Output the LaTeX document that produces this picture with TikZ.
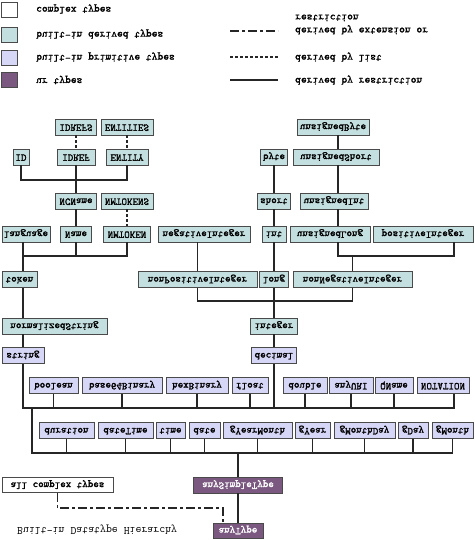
\documentclass[tikz,border=0pt]{standalone}
\usepackage{fontspec}
\newfontfamily\boxfont{Latin Modern Mono}[FakeBold=1.6]
\newfontfamily\keyfont{Latin Modern Mono}[FakeBold=1.2]
\definecolor{derivedfill}{HTML}{C4DFE0}
\definecolor{primfill}{HTML}{D6D6F6}
\definecolor{urfill}{HTML}{7A5880}
\definecolor{boxline}{HTML}{4A4A4A}
\tikzset{
  typebox/.style={draw=boxline, line width=0.9pt, inner xsep=1pt, inner ysep=0pt,
    minimum height=16pt, text height=7pt, text depth=2pt,
    font=\boxfont\fontsize{10.5}{12}\selectfont},
  derived/.style={typebox, fill=derivedfill},
  primitive/.style={typebox, fill=primfill},
  urtype/.style={typebox, fill=urfill, text=white},
  complex/.style={typebox, fill=white},
  keybox/.style={minimum width=16pt, minimum height=15pt},
  restr/.style={line width=1.3pt, draw=black!85},
  listline/.style={restr, dash pattern=on 3pt off 2pt},
  extline/.style={restr, dash pattern=on 9pt off 3pt on 3pt off 3pt},
  legendtext/.style={anchor=west, inner sep=0pt, align=left,
    font=\keyfont\fontsize{11}{13}\selectfont}
}
\begin{document}
\begin{tikzpicture}[x=1pt, y=1pt, yscale=-1, transform shape]
  \useasboundingbox (0,0) rectangle (474,540);

  % key
  \node[complex, keybox] (keyComplex) at (9,9.5) {};
  \node[derived, keybox] (keyDerived) at (9,35) {};
  \node[primitive, keybox] (keyPrimitive) at (9,57.5) {};
  \node[urtype, keybox] (keyUr) at (9,80) {};
  \node[legendtext] (txtComplex) at (36,9) {complex types};
  \node[legendtext] (txtDerived) at (36,34) {built-in derived types};
  \node[legendtext] (txtPrimitive) at (36,57) {built-in primitive types};
  \node[legendtext] (txtUr) at (36,80) {ur types};
  \draw[extline] (230,31) -- (278,31);
  \draw[listline] (230,57) -- (278,57);
  \draw[restr] (230,80) -- (278,80);
  \node[legendtext] (txtExt) at (295,24.5) {derived by extension or\\restriction};
  \node[legendtext] (txtList) at (295,57) {derived by list};
  \node[legendtext] (txtRestr) at (295,80) {derived by restriction};

  % derived types
  \node[derived, minimum width=41pt] (IDREFS) at (76,127) {IDREFS};
  \node[derived, minimum width=52pt] (ENTITIES) at (127,127) {ENTITIES};
  \node[derived, minimum width=72pt] (unsignedByte) at (333,127) {unsignedByte};
  \node[derived, minimum width=16pt] (ID) at (21,157) {ID};
  \node[derived, minimum width=38pt] (IDREF) at (76,157) {IDREF};
  \node[derived, minimum width=42pt] (ENTITY) at (127,157) {ENTITY};
  \node[derived, minimum width=27pt] (byte) at (274,157) {byte};
  \node[derived, minimum width=86pt] (unsignedShort) at (336,157) {unsignedShort};
  \node[derived, minimum width=41pt] (NCName) at (76,201) {NCName};
  \node[derived, minimum width=52pt] (NMTOKENS) at (127,201) {NMTOKENS};
  \node[derived, minimum width=33pt] (short) at (274,201) {short};
  \node[derived, minimum width=68pt] (unsignedInt) at (334,201) {unsignedInt};
  \node[derived, minimum width=48pt] (language) at (26,234) {language};
  \node[derived, minimum width=31pt] (Name) at (76,234) {Name};
  \node[derived, minimum width=47pt] (NMTOKEN) at (127,234) {NMTOKEN};
  \node[derived, minimum width=92pt] (negativeInteger) at (204,234) {negativeInteger};
  \node[derived, minimum width=24pt] (int) at (274,234) {int};
  \node[derived, minimum width=80pt] (unsignedLong) at (330,234) {unsignedLong};
  \node[derived, minimum width=100pt] (positiveInteger) at (423,234) {positiveInteger};
  \node[derived, minimum width=35pt] (token) at (19.5,279.5) {token};
  \node[derived, minimum width=119pt] (nonPositiveInteger) at (197.5,279.5) {nonPositiveInteger};
  \node[derived, minimum width=29pt] (long) at (274,279.5) {long};
  \node[derived, minimum width=119pt] (nonNegativeInteger) at (352.5,279.5) {nonNegativeInteger};
  \node[derived, minimum width=105pt] (normalizedString) at (54.5,326) {normalizedString};
  \node[derived, minimum width=47pt] (integer) at (274,326) {integer};

  % primitive types
  \node[primitive, minimum width=42pt] (string) at (23,355.5) {string};
  \node[primitive, minimum width=45pt] (decimal) at (274,355.5) {decimal};
  \node[primitive, minimum width=49pt] (boolean) at (53.5,385.5) {boolean};
  \node[primitive, minimum width=80pt] (base64Binary) at (122,385.5) {base64Binary};
  \node[primitive, minimum width=62pt] (hexBinary) at (197,385.5) {hexBinary};
  \node[primitive, minimum width=36pt] (float) at (250,385.5) {float};
  \node[primitive, minimum width=44pt] (double) at (305,385.5) {double};
  \node[primitive, minimum width=44pt] (anyURI) at (351,385.5) {anyURI};
  \node[primitive, minimum width=38pt] (QName) at (394,385.5) {QName};
  \node[primitive, minimum width=52pt] (NOTATION) at (443,385.5) {NOTATION};
  \node[primitive, minimum width=55pt] (duration) at (66.5,430.5) {duration};
  \node[primitive, minimum width=55pt] (dateTime) at (125.5,430.5) {dateTime};
  \node[primitive, minimum width=29pt] (time) at (170.5,430.5) {time};
  \node[primitive, minimum width=31pt] (date) at (204.5,430.5) {date};
  \node[primitive, minimum width=69pt] (gYearMonth) at (257.5,430.5) {gYearMonth};
  \node[primitive, minimum width=35pt] (gYear) at (312.5,430.5) {gYear};
  \node[primitive, minimum width=61pt] (gMonthDay) at (364.5,430.5) {gMonthDay};
  \node[primitive, minimum width=30pt] (gDay) at (413,430.5) {gDay};
  \node[primitive, minimum width=41pt] (gMonth) at (452.5,430.5) {gMonth};

  % ur types
  \node[complex, minimum width=111pt, minimum height=15pt] (allComplex) at (57.5,485) {all complex types};
  \node[urtype, minimum width=89pt] (anySimpleType) at (238,485) {anySimpleType};
  \node[urtype, minimum width=50pt, minimum height=15pt] (anyType) at (238,530.5) {anyType};
  \node[legendtext, font=\ttfamily\fontsize{11.5}{13}\selectfont] (title) at (17,530) {Built-in Datatype Hierarchy};

  % bars and trunks
  \coordinate (barA) at (0,180);
  \coordinate (barB) at (0,256);
  \coordinate (barC) at (0,301);
  \coordinate (barD) at (0,408);
  \coordinate (barE) at (0,453);
  \coordinate (barF) at (0,508);
  \coordinate (uTrunk) at (338,0);
  \coordinate (posLine) at (454,0);
  \coordinate (linkX) at (32,0);
  \coordinate (extX) at (223,0);

  \begin{scope}[restr]
    \draw[listline] (IDREFS) -- (IDREF);
    \draw[listline] (ENTITIES) -- (ENTITY);
    \draw[listline] (NMTOKENS) -- (NMTOKEN);
    \draw (ID.north) |- (ENTITY.north |- barA) -- (ENTITY.north);
    \draw (IDREF) -- (NCName);
    \draw (NCName) -- (Name);
    \draw (language.north -| string) |- (NMTOKEN.north |- barB) -- (NMTOKEN.north);
    \draw (Name.north) -- (Name.north |- barB);
    \draw (barB -| string) -- (token.south -| string);
    \draw (token.north -| string) -- (normalizedString.south -| string);
    \draw (normalizedString.north -| string) -- (string.south);
    \draw (unsignedByte.north -| uTrunk) -- (unsignedShort.south -| uTrunk);
    \draw (unsignedShort.north -| uTrunk) -- (unsignedInt.south -| uTrunk);
    \draw (unsignedInt.north -| uTrunk) -- (unsignedLong.south -| uTrunk);
    \draw (unsignedLong.north -| uTrunk) |- (barB -| posLine) -- (positiveInteger.north -| posLine);
    \draw (nonNegativeInteger.south) -- (nonNegativeInteger.south |- barB);
    \draw (byte) -- (short);
    \draw (short) -- (int);
    \draw (int) -- (long);
    \draw (long) -- (integer);
    \draw (integer) -- (decimal);
    \draw (negativeInteger.north -| nonPositiveInteger) -- (nonPositiveInteger.south);
    \draw (nonPositiveInteger.north) |- (nonNegativeInteger.north |- barC) -- (nonNegativeInteger.north);
    \draw (string.north) |- (barD -| posLine) -- (NOTATION.north -| posLine);
    \foreach \t in {boolean, base64Binary, hexBinary, float, decimal, double, anyURI, QName}
      \draw (\t.north) -- (\t.north |- barD);
    \draw (barD -| linkX) |- (gMonth.north |- barE) -- (gMonth.north);
    \foreach \t in {duration, dateTime, time, date, gYearMonth, gYear, gMonthDay, gDay}
      \draw (\t.north) -- (\t.north |- barE);
    \draw (anySimpleType.south) -- (anySimpleType.south |- barE);
    \draw (anySimpleType) -- (anyType);
    \draw[extline] (allComplex.north) |- (barF -| extX) -- (anyType.south -| extX);
  \end{scope}
\end{tikzpicture}
\end{document}
